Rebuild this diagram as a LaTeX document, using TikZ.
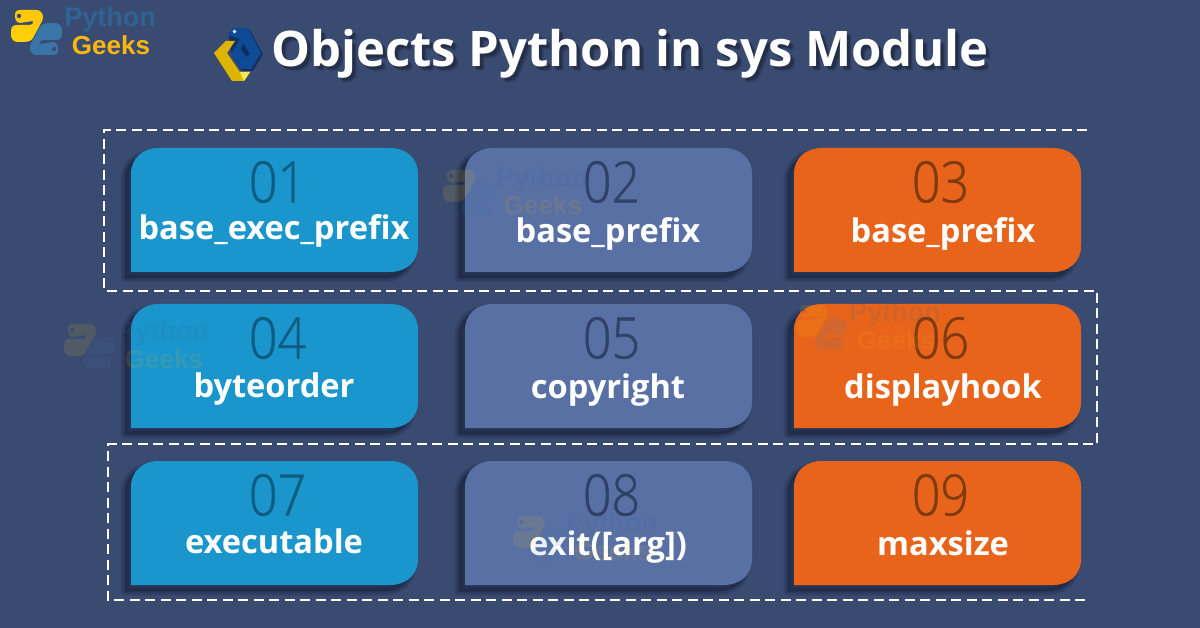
\documentclass[tikz,border=0pt]{standalone}
\usepackage{fontspec}
\setmainfont{Open Sans}
\newfontfamily\lightf[FakeStretch=0.88,FakeBold=0.7]{Open Sans Light}
\newfontfamily\logof{Liberation Sans}
\usetikzlibrary{calc}
\definecolor{bgc}{HTML}{3A4B72}
\definecolor{boxa}{HTML}{1A96CC}
\definecolor{boxb}{HTML}{5870A4}
\definecolor{boxc}{HTML}{E8641B}
\definecolor{numa}{HTML}{0F5C82}
\definecolor{numb}{HTML}{2F4169}
\definecolor{numc}{HTML}{7F3A0E}
\definecolor{shadowc}{HTML}{1B2640}
\definecolor{pyblue}{HTML}{2F6394}
\definecolor{snakeb}{HTML}{3A75A8}
\definecolor{geekc}{HTML}{FFB70F}
\definecolor{snakey}{HTML}{FFC60A}
\definecolor{lgblue}{HTML}{0F4A96}
\definecolor{lgdark}{HTML}{123060}
\definecolor{lgyel}{HTML}{DDB500}
\definecolor{lglight}{HTML}{F0E85A}
\tikzset{
  x=1pt,y=-1pt,
  dashline/.style={draw=white,line width=1.9pt,dash pattern=on 10pt off 5.5pt},
  numtext/.style={inner sep=0pt,anchor=center,font=\fontsize{57}{58}\lightf},
  labeltext/.style={inner sep=0pt,anchor=base,text=white,font=\fontsize{32.6}{36}\selectfont\bfseries},
  titletext/.style={inner sep=0pt,anchor=center,font=\fontsize{49}{52}\selectfont\bfseries},
}
\newcommand{\boxpath}[2]{% x y
  (#1,#2+124) -- (#1,#2+26) .. controls (#1,#2+10) and (#1+12,#2) .. (#1+28,#2) -- (#1+259,#2)
  .. controls (#1+275,#2) and (#1+287,#2+10) .. (#1+287,#2+26) -- (#1+287,#2+98)
  .. controls (#1+287,#2+114) and (#1+275,#2+124) .. (#1+259,#2+124) -- cycle}
\newcommand{\cardbox}[9]{% name x y fill numcolor num label baseline labelx
  \foreach \w in {9,6,3,0.5}{
    \draw[shadowc,opacity=.2,fill=shadowc,line width=\w pt,line join=round] \boxpath{#2-6}{#3+6};
  }
  \fill[#4] \boxpath{#2}{#3};
  \node[numtext,text=#5] (n#1) at (#2+146.5,#3+34) {#6};
  \node[labeltext] (l#1) at (#2+#9,#3+#8) {#7};
}
\newcommand{\pglogo}[3]{%
  \begin{scope}[shift={(#1,#2)},transparency group,opacity=#3]
    \fill[snakeb] (53,55) -- (37,55) .. controls (30,55) and (30,48) .. (30,48)
      .. controls (30,45) and (31,44) .. (32,42) -- (40,27) .. controls (42,24) and (45,23) .. (48,23)
      -- (55,23) .. controls (62,23) and (62,30) .. (62,30) -- (62,34)
      .. controls (62,40) and (58,40) .. (55,40) -- (43,40) .. controls (40,40) and (40,42) .. (40,44)
      -- (53,42) .. controls (58,42) and (58,49) .. (58,49) .. controls (58,53) and (57,55) .. (53,55) -- cycle;
    \shade[top color=snakey,bottom color=snakey!80!yellow] (20,10) -- (36,10) .. controls (43,10) and (43,17) .. (43,17)
      .. controls (43,20) and (42,21) .. (41,23) -- (33,38) .. controls (31,41) and (28,42) .. (25,42)
      -- (18,42) .. controls (11,42) and (11,35) .. (11,35) -- (11,31)
      .. controls (11,25) and (15,25) .. (18,25) -- (30,25) .. controls (33,25) and (33,23) .. (33,21)
      -- (20,23) .. controls (15,23) and (15,16) .. (15,16) .. controls (15,12) and (16,10) .. (20,10) -- cycle;
    \fill[bgc] (19,16) circle (2.2);
    \node[inner sep=0pt,anchor=center,text=pyblue,font=\fontsize{27}{27}\logof\bfseries] (pypy#1) at (110,20) {Python};
    \node[inner sep=0pt,anchor=center,text=geekc,font=\fontsize{26}{26}\logof\bfseries] (pyge#1) at (111,45) {Geeks};
  \end{scope}
}
\begin{document}
\begin{tikzpicture}
\fill[bgc] (0,0) rectangle (1200,628);
\useasboundingbox (0,0) rectangle (1200,628);
% dashed snake
\coordinate (d1) at (1087,130);
\coordinate (d2) at (104,130);
\coordinate (d3) at (104,291);
\coordinate (d4) at (1097,291);
\coordinate (d5) at (1097,444);
\coordinate (d6) at (108,444);
\coordinate (d7) at (108,600);
\coordinate (d8) at (1087,600);
\draw[dashline] (d1) -- (d2) -- (d3) -- (d4) -- (d5) -- (d6) -- (d7) -- (d8);
% cards
\cardbox{a}{131}{148}{boxa}{numa}{01}{base\_exec\_prefix}{92}{143}
\cardbox{b}{465}{148}{boxb}{numb}{02}{base\_prefix}{95}{143}
\cardbox{c}{794}{148}{boxc}{numc}{03}{base\_prefix}{95}{149}
\cardbox{d}{131}{304}{boxa}{numa}{04}{byteorder}{93}{143}
\cardbox{e}{465}{304}{boxb}{numb}{05}{copyright}{95}{143}
\cardbox{f}{794}{304}{boxc}{numc}{06}{displayhook}{95}{149}
\cardbox{g}{131}{461}{boxa}{numa}{07}{executable}{92}{143}
\cardbox{h}{465}{461}{boxb}{numb}{08}{exit([arg])}{94}{143}
\cardbox{i}{794}{461}{boxc}{numc}{09}{maxsize}{94}{149}
% logos
\pglogo{0}{0}{1}
\fill[bgc] (54,49) circle (2.2);
\pglogo{432}{160}{.12}
\pglogo{53}{314}{.12}
\pglogo{785}{295}{.12}
\pglogo{502}{506}{.1}
% title logo
\fill[lgdark] (229,37) -- (235,30) -- (250,30) -- (263,54) -- (253,71) -- (242,71) -- (232,56) -- cycle;
\fill[lgblue] (227,35) -- (233,28) -- (248,28) -- (261,53) -- (251,69) -- (241,69) -- (231,54) -- (240,39) -- cycle;
\fill[lgblue!65!black] (243,43) -- (250,54) -- (246,57) -- (241,49) -- cycle;
\fill[white] (234.5,31.5) circle (1.8);
\fill[lgyel] (214,53) -- (226,41) -- (235,41) -- (227,53) -- (240,72) -- (250,72) -- (244,81) -- (232,81) -- cycle;
\fill[lglight] (240,72) -- (250,72) -- (244,81) -- cycle;
% title
\foreach \d/\o in {5/.08,4/.12,3/.2}{
  \node[titletext,text=black,opacity=\o] at (630+\d,54+\d) {Objects Python in sys Module};
}
\node[titletext,text=white] (title) at (630,54) {Objects Python in sys Module};
\end{tikzpicture}
\end{document}
